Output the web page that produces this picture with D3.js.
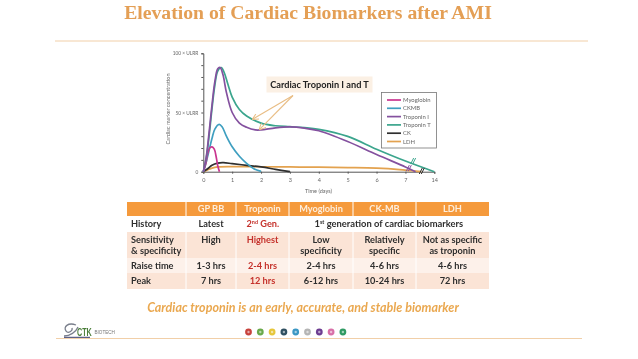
<!DOCTYPE html>
<html><head><meta charset="utf-8">
<script src="https://cdn.jsdelivr.net/npm/d3@7/dist/d3.min.js"></script>
<style>html,body{margin:0;padding:0;background:#fff}svg{display:block}</style></head>
<body><svg id="c" width="638" height="359"></svg>
<script>
const titleText="Elevation of Cardiac Biomarkers after AMI";
const tickLabels=["0","1","2","3","4","5","6","7","14"];
const timePositions=[0,1,2,3,4,5,6,7,8];
const myoglobin=[[0,0],[0.08,6],[0.15,15],[0.22,20],[0.3,21],[0.38,19],[0.45,12],[0.5,5],[0.56,0]];
const ckmb=[[0,0],[0.1,8],[0.2,18],[0.3,28],[0.4,36],[0.55,40],[0.65,38],[0.8,30],[1,21],[1.25,13],[1.5,7],[1.75,2.5],[2,0.3]];
const troponinI=[[0,0],[0.1,12],[0.2,33],[0.3,56],[0.4,76],[0.5,87],[0.58,88],[0.68,82],[0.8,67],[1,50],[1.25,41],[1.5,37.5],[1.8,35.3],[2,35.3],[2.5,37],[3,37.8],[3.5,36.8],[4,34.6],[5,25.5],[6,14.5],[7,4],[7.35,0]];
const troponinT=[[0,0],[0.1,11],[0.2,30],[0.3,53],[0.4,73],[0.5,85],[0.62,88],[0.72,84],[0.85,74],[1,63],[1.25,52.5],[1.5,47],[2,41],[2.5,38.8],[3,38],[3.5,37.2],[4,35.8],[5,29.8],[6,19],[7,9],[8,0]];
const ck=[[0,0],[0.15,2.5],[0.3,5.5],[0.5,7.3],[0.7,7.6],[1,6.8],[1.5,5.4],[2,4],[2.5,2],[3,0]];
const ldh=[[0,0],[0.15,1.5],[0.3,3],[0.5,4],[1,4.3],[2,4.2],[3,4],[4,3.8],[5,3.5],[6,3],[6.8,1.8],[7.2,0.8],[7.55,0]];
const seriesNames=["Myoglobin","CKMB","Troponin I","Troponin T","CK","LDH"];
const seriesData=[myoglobin,ckmb,troponinI,troponinT,ck,ldh];
const seriesColors=["#c9358f","#3f9fc0","#84519f","#3ba58d","#2f2f2f","#e3a24f"];
const drawOrder=[5,4,1,0,3,2];
const tableHeader=["","GP BB","Troponin","Myoglobin","CK-MB","LDH"];
const rowHistory=["History","Latest","2nd Gen."];
const rowSensitivity=[["Sensitivity","& specificity"],["High"],["Highest"],["Low","specificity"],["Relatively","specific"],["Not as specific","as troponin"]];
const rowRaise=["Raise time","1-3 hrs","2-4 hrs","2-4 hrs","4-6 hrs","4-6 hrs"];
const rowPeak=["Peak","7 hrs","12 hrs","6-12 hrs","10-24 hrs","72 hrs"];
const footerColors=["#c8423c","#6aa94a","#e6c63a","#2f4f60","#3b97c4","#b5b5b5","#6d3d91","#d86fa8","#2f9a63"];

const svg=d3.select("#c");
const defs=svg.append("defs");
defs.append("marker").attr("id","ah").attr("viewBox","0 0 8 8").attr("refX",7).attr("refY",4).attr("markerWidth",6).attr("markerHeight",6).attr("orient","auto")
 .append("path").attr("d","M0,0L8,4L0,8").attr("fill","none").attr("stroke","#e9bd84").attr("stroke-width",1.2);
const root=svg.append("g").style("filter","blur(0.35px)");
root.append("rect").attr("width",638).attr("height",359).attr("fill","#ffffff");

root.append("text").attr("x",308).attr("y",19).attr("text-anchor","middle")
 .attr("font-family","Liberation Serif").attr("font-weight","bold").attr("font-size",19.7)
 .attr("fill","#e49f55").text(titleText);
root.append("line").attr("x1",55).attr("x2",588).attr("y1",41).attr("y2",41).attr("stroke","#f1cfa8").attr("stroke-width",1);

const x=d3.scaleLinear().domain([0,8]).range([203.3,434.3]);
const y=d3.scaleLinear().domain([0,100]).range([171.7,53.3]);
const font="Lato";
const axX=root.append("g").attr("transform",`translate(0,${y(0)})`)
 .call(d3.axisBottom(x).tickValues(timePositions).tickFormat((d,i)=>tickLabels[i]).tickSize(2).tickPadding(4));
const axY=root.append("g").attr("transform",`translate(${x(0)},0)`)
 .call(d3.axisLeft(y).tickValues(d3.range(0,101,10)).tickSize(2).tickPadding(3)
 .tickFormat(d=>d===0?"0":d===50?"50 × ULRR":d===100?"100 × ULRR":""));
[axX,axY].forEach(a=>{a.selectAll("path").attr("stroke","#555").attr("stroke-width",1);
 a.selectAll("line").attr("stroke","#555");
 a.selectAll("text").attr("font-family",font).attr("font-size",5.5).attr("fill","#666");});
axY.selectAll("text").attr("font-size",4.8);
root.append("text").attr("x",318.5).attr("y",193).attr("text-anchor","middle").attr("font-family",font).attr("font-size",5.5).attr("fill","#666").text("Time (days)");
root.append("text").attr("transform","translate(170,109) rotate(-90)").attr("text-anchor","middle").attr("font-family",font).attr("font-size",5.5).attr("fill","#666").text("Cardiac marker concentration");

const line=d3.line().x(d=>x(d[0])).y(d=>y(d[1])).curve(d3.curveCatmullRom.alpha(0.5));
drawOrder.forEach(i=>{
 root.append("path").attr("d",line(seriesData[i])).attr("fill","none").attr("stroke",seriesColors[i]).attr("stroke-width",1.7);
});
[[3,7.25,9],[2,7.1,3],[4,7.55,0.6]].forEach(([i,t,v])=>{
 root.append("path").attr("d",`M${x(t)-2},${y(v)+3}L${x(t)+1},${y(v)-3}M${x(t)},${y(v)+3}L${x(t)+3},${y(v)-3}`)
  .attr("fill","none").attr("stroke",seriesColors[i]).attr("stroke-width",1);
});

root.append("rect").attr("x",266.5).attr("y",76.5).attr("width",106).attr("height",16).attr("fill","#fbf0e4");
root.append("text").attr("x",319.5).attr("y",87.8).attr("text-anchor","middle").attr("font-family","Lato").attr("font-weight","700").attr("font-size",9.2).attr("fill","#222").text("Cardiac Troponin I and T");
[[x(1.72),y(44.5)],[x(1.95),y(35.8)]].forEach(p=>{
 root.append("line").attr("x1",293).attr("y1",95.5).attr("x2",p[0]).attr("y2",p[1]).attr("stroke","#e9bd84").attr("stroke-width",1.1).attr("marker-end","url(#ah)");
});

root.append("rect").attr("x",381.5).attr("y",92.5).attr("width",55).attr("height",55.5).attr("fill","#fff").attr("stroke","#777").attr("stroke-width",0.8);
seriesNames.forEach((n,i)=>{
 const ly=100+i*8.3;
 root.append("line").attr("x1",387).attr("x2",401).attr("y1",ly).attr("y2",ly).attr("stroke",seriesColors[i]).attr("stroke-width",1.7);
 root.append("text").attr("x",403).attr("y",ly+2).attr("font-family",font).attr("font-size",5.9).attr("fill","#666").text(n);
});

const colX=[127,186,236,289,353,416,489];
const rowY=[202,216,232,258,273,289];
const rowFill=["#f59a3c","#ffffff","#fbe4d6","#fdf1ea","#fbe4d6"];
rowFill.forEach((f,i)=>{
 root.append("rect").attr("x",colX[0]).attr("y",rowY[i]).attr("width",colX[6]-colX[0]).attr("height",rowY[i+1]-rowY[i]).attr("fill",f);
});
colX.slice(1,6).forEach(cx=>root.append("line").attr("x1",cx).attr("x2",cx).attr("y1",rowY[0]).attr("y2",rowY[5]).attr("stroke","#fff").attr("stroke-width",1));
const cx=i=>(colX[i]+colX[i+1])/2;
const tf="Lato";
function t(s,px,py,o={}){return root.append("text").attr("x",px).attr("y",py).attr("text-anchor",o.a||"middle")
 .attr("font-family",tf).attr("font-weight",o.w||"700").attr("font-size",o.s||9.2).attr("fill",o.c||"#2e2e2e").text(s);}
tableHeader.forEach((h,i)=>{if(h)t(h,cx(i),212,{c:"#fdeedd"});});
t(rowHistory[0],131,227,{a:"start"});
t(rowHistory[1],cx(1),227);
const red="#c5322c";
const g=t("2",cx(2)-16,227,{c:red,a:"start"});
g.append("tspan").attr("font-size",5.5).attr("dy",-3).text("nd");
g.append("tspan").attr("dy",3).text(" Gen.");
const f=t("1",314.5,227,{a:"start",s:9.4});
f.append("tspan").attr("font-size",5.5).attr("dy",-3).text("st");
f.append("tspan").attr("dy",3).text("  generation of cardiac biomarkers");
rowSensitivity.forEach((ls,i)=>ls.forEach((l,j)=>{
 t(l,i===0?131:cx(i),243+j*10.5,{a:i===0?"start":"middle",c:i===2?red:undefined});
}));
rowRaise.forEach((l,i)=>t(l,i===0?131:cx(i),268.5,{a:i===0?"start":"middle",c:i===2?red:undefined}));
rowPeak.forEach((l,i)=>t(l,i===0?131:cx(i),284,{a:i===0?"start":"middle",c:i===2?red:undefined}));

root.append("text").attr("x",303).attr("y",311.5).attr("text-anchor","middle").attr("font-family","Lato").attr("font-style","italic").attr("font-weight","700").attr("font-size",12.5).attr("fill","#eaa850").text("Cardiac troponin is an early, accurate, and stable biomarker");
root.append("line").attr("x1",56).attr("x2",582).attr("y1",338.5).attr("y2",338.5).attr("stroke","#f1cfa8").attr("stroke-width",1);
footerColors.forEach((c,i)=>{
 root.append("circle").attr("cx",248.5+i*11.8).attr("cy",332).attr("r",3.4).attr("fill",c);
 root.append("circle").attr("cx",248.5+i*11.8).attr("cy",332).attr("r",1.2).attr("fill","#fff").attr("opacity",0.55);
});
root.append("path").attr("d","M76,325C68,322 63,327 66,331C68,334 73,331 72,328M64,336C70,336 76,332 78,327").attr("fill","none").attr("stroke","#7a7f8c").attr("stroke-width",1.3);
root.append("text").attr("transform","translate(77,336) scale(0.72,1.05)").attr("font-family","Liberation Sans").attr("font-weight","bold").attr("font-size",10).attr("fill","#4c7f3b").text("CTK");
root.append("text").attr("x",94.5).attr("y",334).attr("font-family","Liberation Sans").attr("font-size",4.6).attr("fill","#777").text("BIOTECH");
root.append("line").attr("x1",64).attr("x2",90).attr("y1",337.3).attr("y2",337.3).attr("stroke","#333a6b").attr("stroke-width",1);
</script></body></html>
